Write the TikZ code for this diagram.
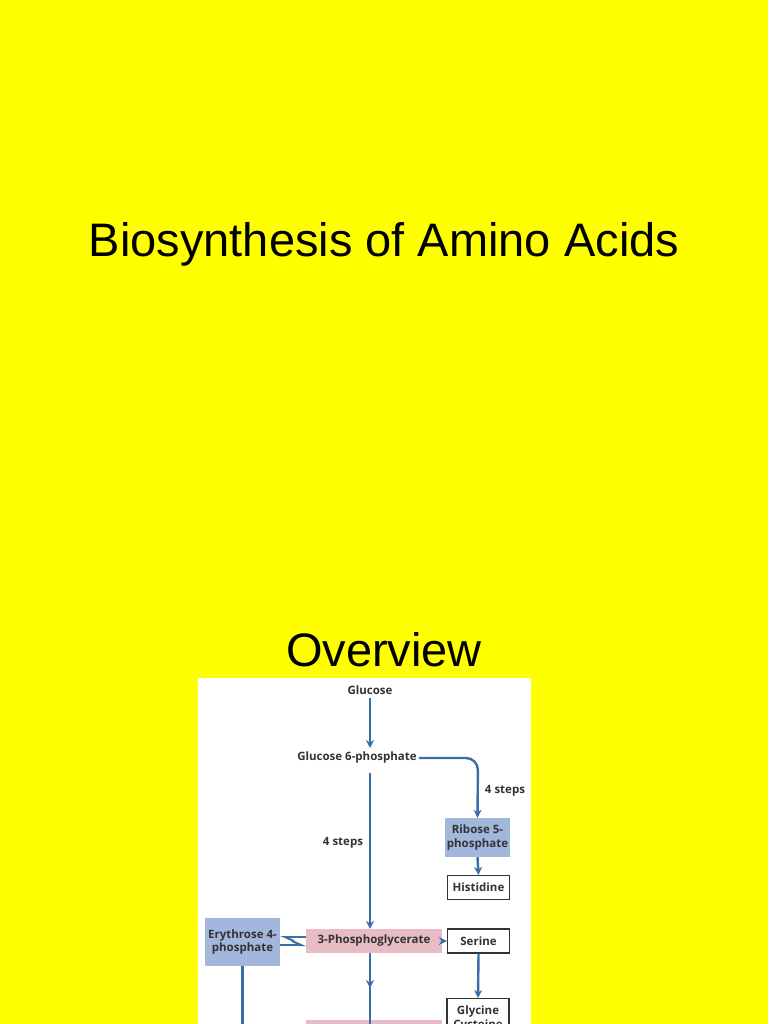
\documentclass[tikz,border=0pt]{standalone}
\usepackage{fontspec}
\setmainfont{Liberation Sans}
\newfontfamily\dfont{Open Sans}
\usetikzlibrary{arrows.meta}
\definecolor{bg}{HTML}{FFFF00}
\definecolor{arr}{HTML}{3A6EA8}
\definecolor{bbox}{HTML}{A3B6DC}
\definecolor{pbox}{HTML}{E8BCC4}
\definecolor{tx}{HTML}{333333}
\begin{document}
\begin{tikzpicture}[x=1pt,y=-1pt,
  lbl/.style={font=\dfont\bfseries\fontsize{11.5}{13.5}\selectfont,text=tx,align=center,inner sep=0pt},
  bluebox/.style={lbl,fill=bbox,minimum height=39pt,minimum width=65pt},
  pinkbox/.style={lbl,fill=pbox,minimum height=24pt,minimum width=136pt},
  whitebox/.style={lbl,draw=tx,fill=white,line width=1.2pt,minimum height=24pt,minimum width=62pt},
  flow/.style={draw=arr,line width=2.4pt,-{Stealth[length=8pt,width=8pt]}},
  title/.style={font=\fontsize{47}{54}\selectfont,inner sep=0pt}]
\fill[bg] (0,0) rectangle (768,1024);
\useasboundingbox (0,0) rectangle (768,1024);
\node[title] (t) at (384,244) {Biosynthesis of Amino Acids};
\node[title] (o) at (384,650) {Overview};
\fill[white] (198,678) rectangle (531,1024);
\begin{scope}
\clip (198,678) rectangle (531,1024);
\node[lbl] (glc) at (370,690) {Glucose};
\node[lbl] (g6p) at (357,758) {Glucose 6-phosphate};
\node[bluebox] (r5p) at (477.5,837.5) {Ribose 5-\\phosphate};
\node[whitebox] (his) at (478.5,887.5) {Histidine};
\node[bluebox,minimum width=75pt,minimum height=48pt] (e4p) at (242.5,942) {Erythrose 4-\\phosphate};
\node[pinkbox] (pg) at (374,941) {3-Phosphoglycerate};
\node[whitebox] (ser) at (478.5,941) {Serine};
\node[whitebox,minimum height=40pt,anchor=north,align=center] (gly) at (478,998) {Glycine\\Cysteine};
\node[pinkbox,anchor=north] (pep) at (374,1020) {};
\node[lbl] (s1) at (505,791) {4 steps};
\node[lbl] (s2) at (343,843) {4 steps};
\draw[flow] (370,698) -- (370,748);
\draw[flow] (370,773) -- (pg.north -| 370,0);
\draw[flow,rounded corners=12pt] (g6p.east) ++(2,0) -- (478,758) -- (r5p.north);
\draw[flow] (r5p.south) -- (his.north);
\draw[flow] (pg.east) -- (ser.west);
\draw[flow] (ser.south) -- (gly.north);
\draw[flow] (370,953) -- (370,988);
\draw[draw=arr,line width=2.4pt] (370,985) -- (370,1024);
\draw[draw=arr,line width=2pt,-{Straight Barb[left,length=9pt,width=8pt]}] (pg.west |- 0,937) -- (e4p.east |- 0,937);
\draw[draw=arr,line width=2pt,-{Straight Barb[left,length=9pt,width=8pt]}] (e4p.east |- 0,945) -- (pg.west |- 0,945);
\draw[draw=arr,line width=2.4pt] (e4p.south) -- (242.5,1024);
\end{scope}
\end{tikzpicture}
\end{document}
